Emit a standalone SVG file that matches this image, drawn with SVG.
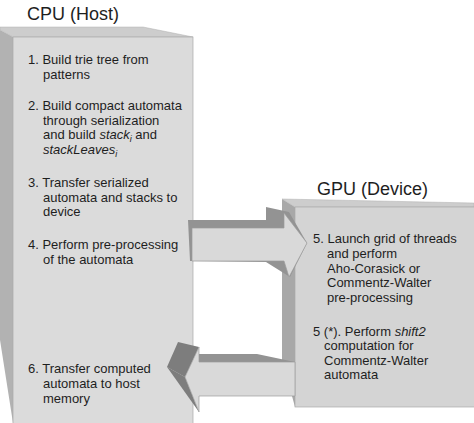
<svg xmlns="http://www.w3.org/2000/svg" width="474" height="423" viewBox="0 0 474 423">
<style>
text{font-family:"Liberation Sans",Arial,Helvetica,sans-serif;fill:#1e1e1e}
.t{font-size:13px}
.h{font-size:18px}
.i{font-style:italic}
.front{fill:#dbdbdb;stroke:#a9a9a9;stroke-width:0.7}
.top{fill:#cdcdcd;stroke:#b0b0b0;stroke-width:0.5}
.side{fill:#b2b2b2}
.afront{fill:#d9d9d9;stroke:#9c9c9c;stroke-width:0.7}
.atop{fill:#939393}
.ahead{fill:#7d7d7d}
</style>
<rect width="474" height="423" fill="#ffffff"/>
<g id="cpu">
<polygon class="side" points="0,30 13,37 13,423 0,340"/>
<polygon class="top" points="0,27 143,27 193,37 13,37 0,30"/>
<rect class="front" x="13" y="37" width="180" height="392"/>
<text class="h" x="27" y="20">CPU (Host)</text>
<text class="t" x="28" y="64">1. Build trie tree from</text>
<text class="t" x="43" y="79">patterns</text>
<text class="t" x="28" y="110">2. Build compact automata</text>
<text class="t" x="43" y="124.5">through serialization</text>
<text class="t" x="43" y="139">and build <tspan class="i">stack</tspan><tspan class="i" font-size="9" dy="3">i</tspan><tspan dy="-3"> and</tspan></text>
<text class="t" x="43" y="154"><tspan class="i">stackLeaves</tspan><tspan class="i" font-size="9" dy="3">i</tspan></text>
<text class="t" x="28" y="187">3. Transfer serialized</text>
<text class="t" x="43" y="201.5">automata and stacks to</text>
<text class="t" x="43" y="216">device</text>
<text class="t" x="28" y="249">4. Perform pre-processing</text>
<text class="t" x="43" y="263.5">of the automata</text>
<text class="t" x="28" y="373">6. Transfer computed</text>
<text class="t" x="43" y="388">automata to host</text>
<text class="t" x="43" y="402.5">memory</text>
</g>
<g id="gpu">
<polygon class="side" points="282,199 295,207 295,407 292,396 282,380" style="fill:#a8a8a8"/>
<polygon class="top" points="282,199 474,203 474,207 295,207"/>
<rect class="front" x="295" y="207" width="185" height="200" style="fill:#d4d4d4"/>
<text class="h" x="317" y="195">GPU (Device)</text>
</g>
<g id="connectors">
<g id="arrow-cpu-to-gpu">
<polygon class="atop" points="188,220 266,220 266,207 289,212 307,243 290,277 266,262 190,261"/>
<polygon class="afront" points="192,228 284,228 284,213 307,243 289,277 284,261 192,261"/>
</g>
<g id="arrow-gpu-to-cpu">
<polygon class="atop" points="198,354 257,354 295,362 198,362"/>
<polygon class="ahead" points="178,342 199,347 185,377 167,367"/>
<polygon class="ahead" points="167,367 185,377 199,412"/>
<polygon class="afront" points="199,362 295,362 295,396 199,396 199,412 185,377 199,347"/>
</g>
</g>
<g id="gpu-text">
<text class="t" x="313" y="243">5. Launch grid of threads</text>
<text class="t" x="327" y="258">and perform</text>
<text class="t" x="327" y="272.5">Aho-Corasick or</text>
<text class="t" x="327" y="287">Commentz-Walter</text>
<text class="t" x="327" y="302">pre-processing</text>
<text class="t" x="313" y="336">5 (*). Perform <tspan class="i">shift2</tspan></text>
<text class="t" x="324" y="350">computation for</text>
<text class="t" x="324" y="364.5">Commentz-Walter</text>
<text class="t" x="324" y="379">automata</text>
</g>
</svg>
